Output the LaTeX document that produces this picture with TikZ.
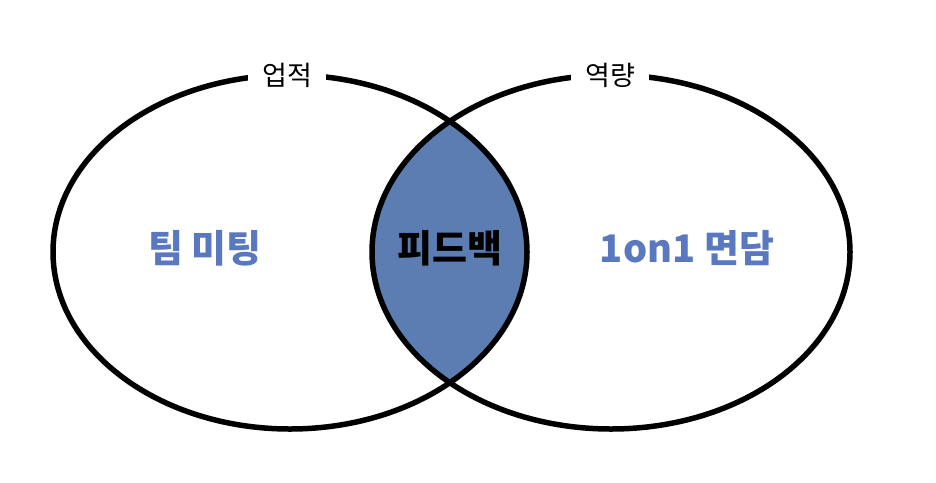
\documentclass[tikz,border=0pt]{standalone}
\usepackage{fontspec}
\newfontfamily\kofont{Noto Sans CJK KR}
\definecolor{lensblue}{HTML}{5B7DB1}
\definecolor{textblue}{HTML}{5A78C0}
\tikzset{
  ring/.style={line width=5.5pt, draw=black},
  setlabel/.style={fill=white, inner xsep=14pt, inner ysep=6pt, font=\kofont\fontsize{27}{30}\selectfont},
  bigtext/.style={font=\kofont\bfseries\fontsize{38}{42}\selectfont}
}
\begin{document}
\begin{tikzpicture}[x=1pt,y=-1pt]
  \useasboundingbox (0,0) rectangle (936,482);
  \coordinate (L) at (290,252);
  \coordinate (R) at (611,252);
  % lens
  \begin{scope}
    \clip (L) ellipse [x radius=237, y radius=177];
    \fill[lensblue] (R) ellipse [x radius=239, y radius=177];
  \end{scope}
  \draw[ring] (L) ellipse [x radius=237, y radius=177];
  \draw[ring] (R) ellipse [x radius=239, y radius=177];
  \node[setlabel] (perf) at (287,75) {업적};
  \node[setlabel] (comp) at (610,75) {역량};
  \node[bigtext, text=textblue] (team) at (205,248) {팀 미팅};
  \node[bigtext] (fb) at (450,248) {피드백};
  \node[bigtext, text=textblue] (oneon) at (687,248) {1on1 면담};
\end{tikzpicture}
\end{document}
